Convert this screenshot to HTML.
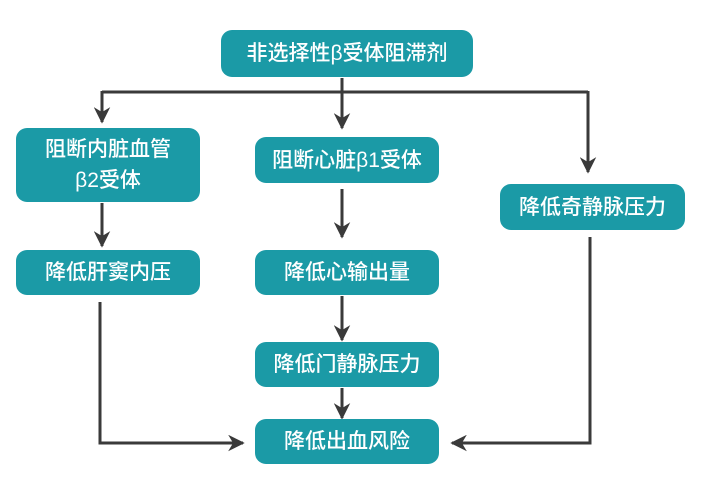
<!DOCTYPE html>
<html><head><meta charset="utf-8"><style>
body{margin:0;width:703px;height:490px;background:#fff;position:relative;overflow:hidden;font-family:"Liberation Sans","Noto Sans CJK SC",sans-serif}
.b{position:absolute;background:#1b9aa6;color:#fff;border-radius:11px;display:flex;align-items:center;justify-content:center;text-align:center;font-size:21px;line-height:31px;font-weight:500}
svg{position:absolute;left:0;top:0}
</style></head><body>
<svg width="703" height="490">
<defs><marker id="a" viewBox="0 0 10 10" refX="9" refY="5" markerWidth="5.5" markerHeight="5.5" orient="auto"><path d="M0,0 L10,5 L0,10 L3,5z" fill="#3a3a3a"/></marker></defs>
<g stroke="#3a3a3a" stroke-width="3" fill="none">
<path d="M342 78 V128" marker-end="url(#a)"/>
<path d="M102 92 H588"/>
<path d="M102 91 V122" marker-end="url(#a)"/>
<path d="M588 91 V172" marker-end="url(#a)"/>
<path d="M102 203 V246" marker-end="url(#a)"/>
<path d="M342 189 V237" marker-end="url(#a)"/>
<path d="M342 296 V340" marker-end="url(#a)"/>
<path d="M342 388 V418" marker-end="url(#a)"/>
<path d="M100 302 V443 H243" marker-end="url(#a)"/>
<path d="M590 237 V443 H452" marker-end="url(#a)"/>
</g></svg>
<div class="b" style="left:221px;top:30px;width:252px;height:47px">非选择性β受体阻滞剂</div>
<div class="b" style="left:16px;top:128px;width:184px;height:74px">阻断内脏血管<br>β2受体</div>
<div class="b" style="left:255px;top:137px;width:184px;height:46px">阻断心脏β1受体</div>
<div class="b" style="left:500px;top:184px;width:185px;height:46px">降低奇静脉压力</div>
<div class="b" style="left:16px;top:250px;width:184px;height:45px">降低肝窦内压</div>
<div class="b" style="left:255px;top:250px;width:184px;height:45px">降低心输出量</div>
<div class="b" style="left:255px;top:342px;width:184px;height:45px">降低门静脉压力</div>
<div class="b" style="left:255px;top:419px;width:184px;height:45px">降低出血风险</div>
</body></html>
